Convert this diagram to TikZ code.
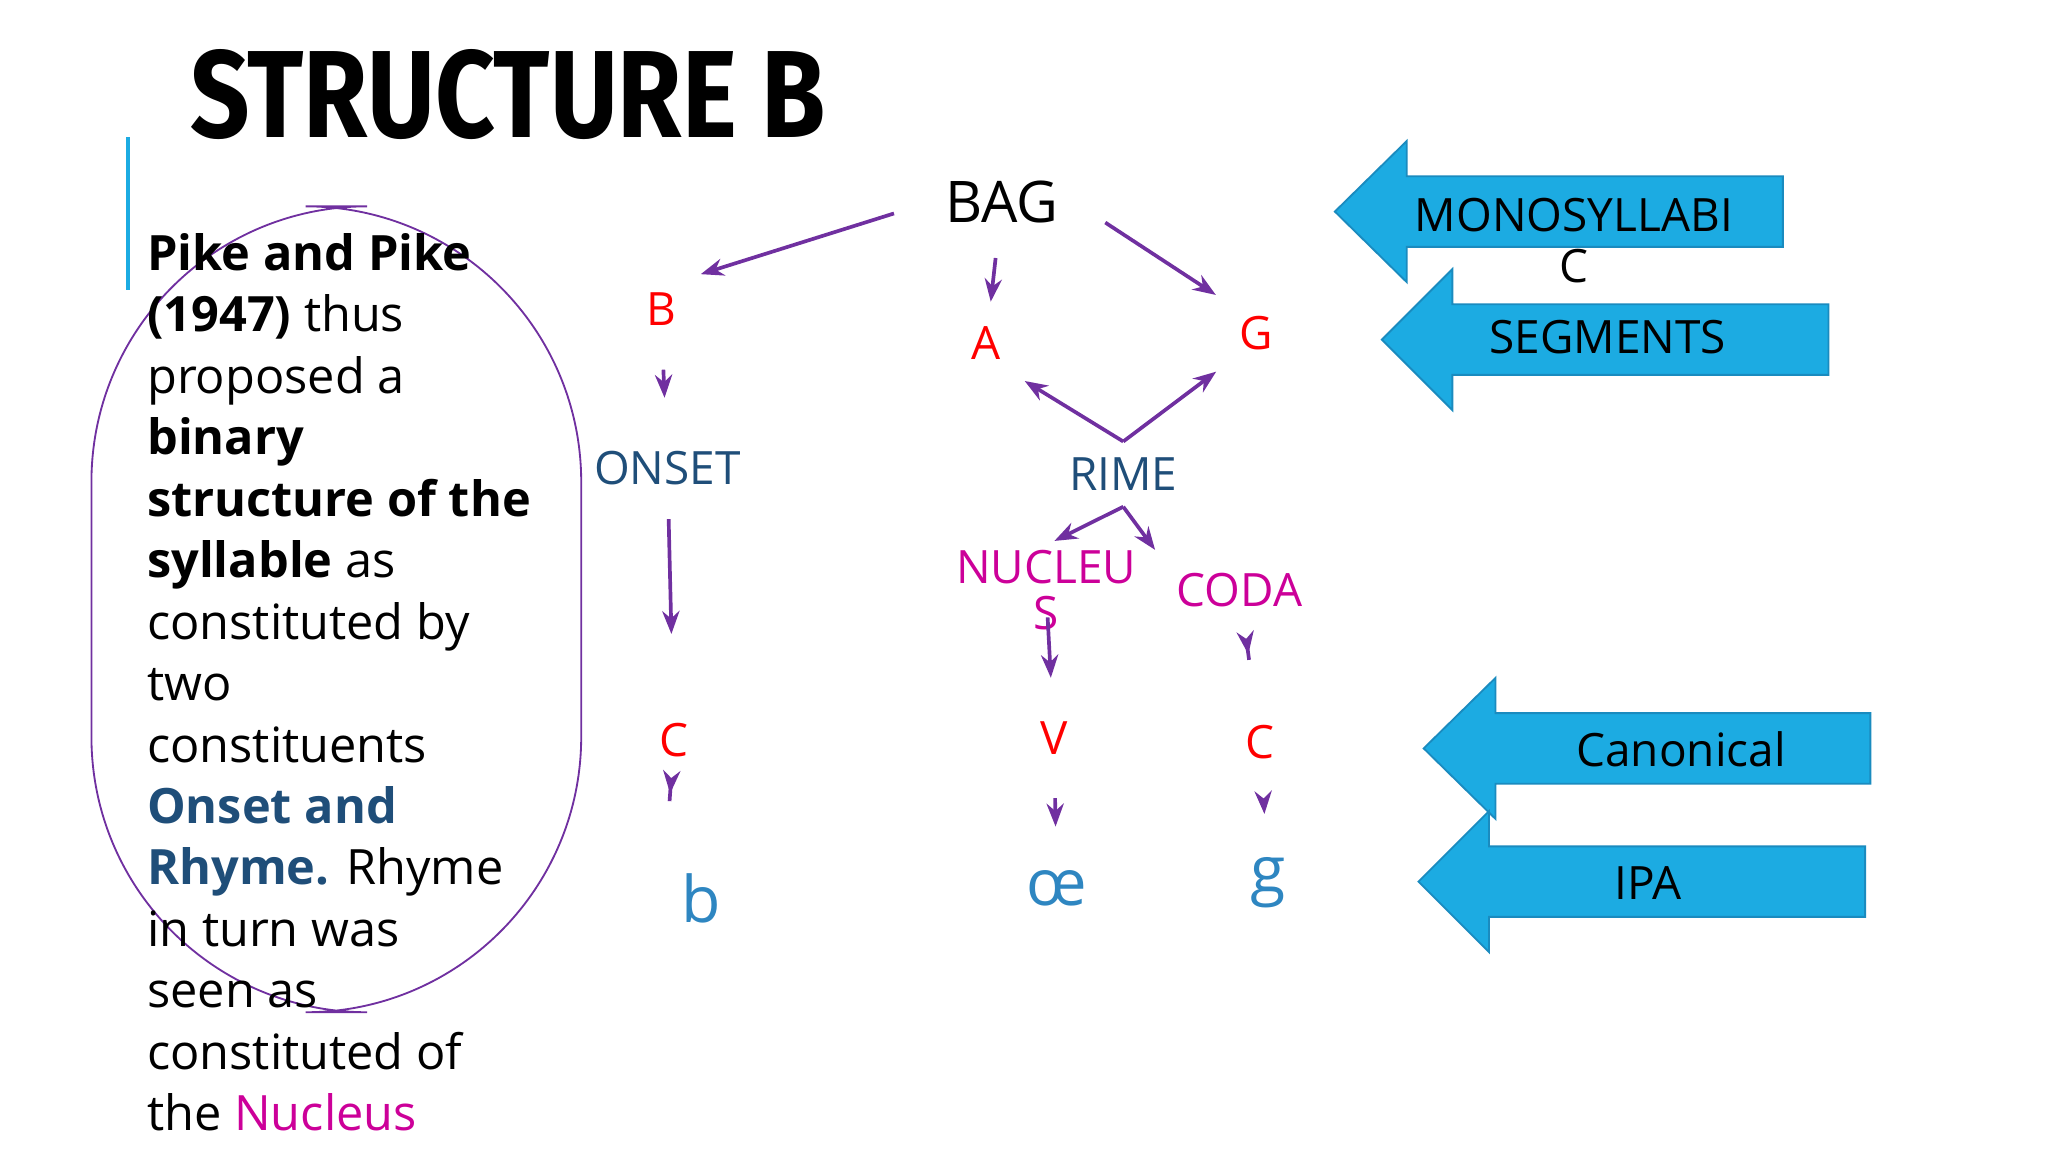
\documentclass[tikz,border=0pt]{standalone}
\usepackage{fontspec}
\setmainfont{Open Sans}
\newfontfamily\titlefont{Fira Sans}
\usetikzlibrary{positioning, arrows.meta}
\definecolor{treepurple}{HTML}{7030A0}
\definecolor{segred}{HTML}{FF0000}
\definecolor{darkblue}{HTML}{1F4E79}
\definecolor{nucmag}{HTML}{CC0099}
\definecolor{ipablue}{HTML}{2E86C1}
\definecolor{arrowfill}{HTML}{1CABE2}
\definecolor{arrowedge}{HTML}{1A8BBF}
\tikzset{
  edge/.style={-{Stealth[length=5pt]}, treepurple, thick, shorten <=4pt, shorten >=2pt},
  seg/.style={text=segred, font=\fontsize{10}{12}\selectfont},
  cons/.style={text=darkblue, font=\fontsize{10}{12}\selectfont},
  nuc/.style={text=nucmag, font=\fontsize{10}{12}\selectfont},
  ipa/.style={text=ipablue, font=\fontsize{14}{16}\selectfont},
  label/.style={font=\fontsize{10}{12}\selectfont}
}
\newcommand{\blockarrow}[5]{% tip x, neck x, right x, centre y, name
  \draw[fill=arrowfill, draw=arrowedge, thin]
    (#1,#4) -- (#2,#4-54) -- (#2,#4-27) -- (#3,#4-27) -- (#3,#4+27)
    -- (#2,#4+27) -- (#2,#4+54) -- cycle;
}
\begin{document}
\begin{tikzpicture}[x=0.01cm, y=-0.01cm]
  \useasboundingbox (0,0) rectangle (1568,882);

  % title
  \node (title) [anchor=base west, inner sep=0pt, xscale=0.84, font=\titlefont\bfseries\fontsize{27}{30}\selectfont] at (145,105) {STRUCTURE B};
  \draw[arrowfill, thick] (98,105) -- (98,222);

  % text box
  \draw[treepurple, thin, rounded corners=60] (70,158) rectangle (445,775);
  \node (text) [anchor=north west, inner sep=0pt, align=left, font=\fontsize{10.6}{13.38}\selectfont] at (112,178) {%
    \textbf{Pike and Pike}\\
    \textbf{(1947)} thus\\
    proposed a\\
    \textbf{binary}\\
    \textbf{structure of the}\\
    \textbf{syllable} as\\
    constituted by\\
    two\\
    constituents\\
    \textcolor{darkblue}{\textbf{Onset and}}\\
    \textcolor{darkblue}{\textbf{Rhyme.}} Rhyme\\
    in turn was\\
    seen as\\
    constituted of\\
    the \textcolor{nucmag}{Nucleus}};

  % tree
  \node (bag) [font=\fontsize{12.5}{14}\selectfont] at (767,155) {BAG};
  \node (b) [seg] at (506,237) {B};
  \node (a) [seg] at (755,263) {A};
  \node (g) [seg] at (962,255) {G};
  \node (onset) [cons] at (511,358) {ONSET};
  \node (rime) [cons] at (860,363) {RIME};
  \node (nucleus) [nuc, align=center, inner sep=1pt] at (801,452) {NUCLEU\\[-2pt]S};
  \node (coda) [nuc] at (949,452) {CODA};
  \node (c1) [seg] at (516,567) {C};
  \node (v) [seg] at (807,565) {V};
  \node (c2) [seg] at (965,568) {C};
  \node (ipab) [ipa] at (537,688) {b};
  \node (ipaoe) [ipa] at (809,680) {œ};
  \node (ipag) [ipa] at (971,676) {g};

  \draw[edge, shorten <=8pt] (bag.west) -- (b.north east);
  \draw[edge] (bag) -- (a);
  \draw[edge, shorten <=8pt] (bag.east) -- (g.north west);
  \draw[edge, shorten <=6pt, shorten >=8pt] (b) -- (onset);
  \draw[edge, shorten <=4pt, shorten >=16pt] (onset) -- (c1);
  \draw[edge, shorten <=6pt, shorten >=14pt] (c1) -- (ipab.north west);
  \draw[edge, shorten <=0pt] (rime.north) -- (a.south east);
  \draw[edge, shorten <=0pt] (rime.north) -- (g.south west);
  \draw[edge, shorten <=0pt] (rime.south) -- (nucleus.north);
  \draw[edge, shorten <=0pt] (rime.south) -- (coda.north west);
  \draw[edge, shorten <=-4pt, shorten >=6pt] (nucleus) -- (v);
  \draw[edge, shorten <=8pt, shorten >=12pt] (coda) -- (c2);
  \draw[edge, shorten <=6pt, shorten >=6pt] (v) -- (ipaoe);
  \draw[edge, shorten <=6pt, shorten >=6pt] (c2) -- (ipag);

  % block arrows
  \blockarrow{1022}{1077}{1365}{162}{mono}
  \blockarrow{1058}{1112}{1400}{260}{segs}
  \blockarrow{1090}{1145}{1432}{573}{canon}
  \blockarrow{1086}{1140}{1428}{675}{ipa}
  \node (mono) [label, align=center] at (1205,184) {MONOSYLLABI\\[-1pt]C};
  \node (segs) [label] at (1231,258) {SEGMENTS};
  \node (canon) [label] at (1287,574) {Canonical};
  \node (ipaname) [label] at (1262,676) {IPA};
\end{tikzpicture}
\end{document}
